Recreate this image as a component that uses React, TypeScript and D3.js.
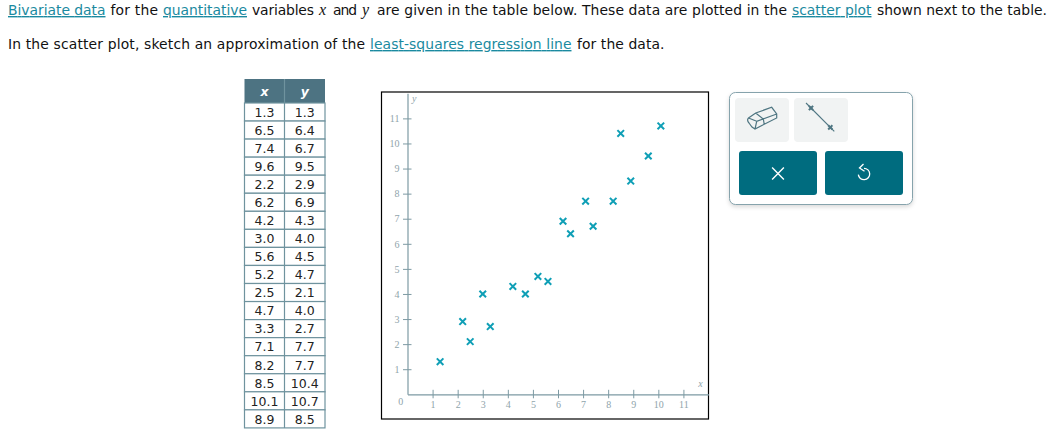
import React, { useEffect, useRef } from 'react';
import * as d3 from 'd3';

const xValues = [1.3, 6.5, 7.4, 9.6, 2.2, 6.2, 4.2, 3.0, 5.6, 5.2, 2.5, 4.7, 3.3, 7.1, 8.2, 8.5, 10.1, 8.9];
const yValues = [1.3, 6.4, 6.7, 9.5, 2.9, 6.9, 4.3, 4.0, 4.5, 4.7, 2.1, 4.0, 2.7, 7.7, 7.7, 10.4, 10.7, 8.5];
const tickValues = [1, 2, 3, 4, 5, 6, 7, 8, 9, 10, 11];

const SANS = "'DejaVu Sans', Verdana, sans-serif";
const SERIF = "'Liberation Serif', 'DejaVu Serif', serif";
const TEAL = '#006c7f';
const LINK = '#1a8aa0';
const AXIS = '#7d9aa3';
const LABEL = '#8fa4ab';

const line1: any[] = [
  { text: 'Bivariate data', x: 8, w: 97.5, link: true },
  { text: 'for the', x: 110.5, w: 47.5 },
  { text: 'quantitative', x: 163, w: 84, link: true },
  { text: 'variables', x: 252, w: 62 },
  { text: 'x', x: 319, math: true },
  { text: 'and', x: 333, w: 24 },
  { text: 'y', x: 362, math: true },
  { text: 'are given in the table below. These data are plotted in the', x: 377, w: 410 },
  { text: 'scatter plot', x: 792, w: 79.5, link: true },
  { text: 'shown next to the table.', x: 877, w: 170 },
];
const line2: any[] = [
  { text: 'In the scatter plot, sketch an approximation of the', x: 8, w: 357 },
  { text: 'least-squares regression line', x: 370, w: 201.5, link: true },
  { text: 'for the data.', x: 577, w: 87.5 },
];

export default function App() {
  const ref = useRef<SVGSVGElement>(null);

  useEffect(() => {
    const svg = d3.select(ref.current);
    svg.selectAll('*').remove();

    // paragraph
    const para = svg.append('g').attr('font-family', SANS).attr('font-size', 13.9);
    [{ row: line1, y: 15 }, { row: line2, y: 49 }].forEach(({ row, y }) => {
      para.selectAll(null).data(row).enter().append('text')
        .attr('x', d => d.x)
        .attr('y', y)
        .attr('fill', d => (d.link ? LINK : '#111'))
        .attr('text-decoration', d => (d.link ? 'underline' : null))
        .attr('font-family', d => (d.math ? SERIF : null))
        .attr('font-style', d => (d.math ? 'italic' : null))
        .attr('font-size', d => (d.math ? 16 : null))
        .attr('textLength', d => d.w ?? null)
        .text(d => d.text);
    });

    // table
    const tableX = [244.5, 284.5, 325];
    const headerTop = 79;
    const headerH = 24;
    const rowH = 18.05;
    const table = svg.append('g').attr('font-family', SANS).attr('font-size', 12.5);
    table.append('rect')
      .attr('x', tableX[0]).attr('y', headerTop)
      .attr('width', tableX[2] - tableX[0]).attr('height', headerH)
      .attr('fill', '#4d7382');
    ['x', 'y'].forEach((h, i) => {
      table.append('text')
        .attr('x', (tableX[i] + tableX[i + 1]) / 2).attr('y', headerTop + 16.5)
        .attr('text-anchor', 'middle').attr('fill', '#fff')
        .attr('font-weight', 'bold').attr('font-style', 'italic')
        .text(h);
    });
    xValues.forEach((xv, i) => {
      const top = headerTop + headerH + i * rowH;
      table.append('rect')
        .attr('x', tableX[0]).attr('y', top)
        .attr('width', tableX[2] - tableX[0]).attr('height', rowH)
        .attr('fill', '#fff').attr('stroke', '#6f939e').attr('stroke-width', 1.2);
      table.append('text')
        .attr('x', (tableX[0] + tableX[1]) / 2).attr('y', top + 13.8)
        .attr('text-anchor', 'middle').attr('fill', '#222')
        .text(xv.toFixed(1));
      table.append('text')
        .attr('x', (tableX[1] + tableX[2]) / 2).attr('y', top + 13.8)
        .attr('text-anchor', 'middle').attr('fill', '#222')
        .text(yValues[i].toFixed(1));
    });
    table.append('line')
      .attr('x1', tableX[1]).attr('x2', tableX[1])
      .attr('y1', headerTop).attr('y2', headerTop + headerH + xValues.length * rowH)
      .attr('stroke', '#6f939e').attr('stroke-width', 1.2);

    // scatter plot
    const x = d3.scaleLinear().domain([0, 12]).range([407.5, 708.5]);
    const y = d3.scaleLinear().domain([0, 12]).range([394.3, 93.3]);

    const plot = svg.append('g');
    plot.append('rect')
      .attr('x', 381.5).attr('y', 92)
      .attr('width', 327).attr('height', 327)
      .attr('fill', '#fff').attr('stroke', '#000').attr('stroke-width', 1.2);

    const xAxis = plot.append('g').attr('transform', `translate(0,${y(0)})`)
      .call(d3.axisBottom(x).tickValues(tickValues).tickSize(0).tickPadding(7).tickFormat(d3.format('d')));
    const yAxis = plot.append('g').attr('transform', `translate(${x(0)},0)`)
      .call(d3.axisLeft(y).tickValues(tickValues).tickSize(0).tickPadding(8).tickFormat(d3.format('d')));

    [xAxis, yAxis].forEach(a => {
      a.select('.domain').attr('stroke', AXIS).attr('stroke-width', 1.2);
      a.selectAll('text').attr('fill', LABEL).attr('font-family', SERIF).attr('font-size', 10);
    });
    xAxis.selectAll('.tick line').attr('stroke', AXIS).attr('y1', -4.5).attr('y2', 4);
    yAxis.selectAll('.tick line').attr('stroke', AXIS).attr('x1', -4.5).attr('x2', 4);

    const axisLabels = [
      { text: '0', px: x(0) - 6.8, py: y(0) + 11 },
      { text: 'x', px: x(11.68), py: y(0) - 7, italic: true },
      { text: 'y', px: x(0) + 6.8, py: y(11.65), italic: true },
    ];
    plot.selectAll(null).data(axisLabels).enter().append('text')
      .attr('x', d => d.px).attr('y', d => d.py)
      .attr('text-anchor', 'middle')
      .attr('fill', LABEL).attr('font-family', SERIF).attr('font-size', 10)
      .attr('font-style', d => (d.italic ? 'italic' : null))
      .text(d => d.text);

    const cross = d3.symbol().type(d3.symbolX).size(30);
    plot.selectAll(null).data(xValues).enter().append('path')
      .attr('transform', (d, i) => `translate(${x(d)},${y(yValues[i])})`)
      .attr('d', cross as any)
      .attr('fill', 'none').attr('stroke', '#0f9fb6').attr('stroke-width', 2);

    // tool panel
    const panel = svg.append('g');
    panel.append('rect')
      .attr('x', 729.5).attr('y', 92.5).attr('width', 183).attr('height', 112).attr('rx', 6)
      .attr('fill', '#fff').attr('stroke', '#86a3ac').attr('stroke-width', 1)
      .style('filter', 'drop-shadow(0 2px 2px rgba(0,0,0,0.15))');
    [735, 794].forEach(bx => {
      panel.append('rect').attr('x', bx).attr('y', 98).attr('width', 54).attr('height', 44).attr('rx', 4).attr('fill', '#f1f3f3');
    });
    [739, 825].forEach(bx => {
      panel.append('rect').attr('x', bx).attr('y', 151).attr('width', 78).attr('height', 44).attr('rx', 3).attr('fill', TEAL);
    });

    // eraser icon
    const icon = '#4f7682';
    panel.append('path')
      .attr('d', 'M755.7 113 L771.7 107.3 L776.7 114 L776.7 118 L755 129 L752 127 L749 123 Q746.5 120 748.5 118 Z M776.7 114 L756.7 121.3 Q752 119.5 748.5 118 M756.7 121.3 L755 129 M755.7 113 L763.3 119 L764.3 124.7')
      .attr('fill', 'none').attr('stroke', icon).attr('stroke-width', 1.2);
    // line tool icon
    panel.append('line').attr('x1', 806).attr('y1', 103).attr('x2', 834.3).attr('y2', 131.3).attr('stroke', icon).attr('stroke-width', 1.1);
    [[811, 108], [830.3, 127.3]].forEach(([cx, cy]) => {
      panel.append('path')
        .attr('transform', `translate(${cx},${cy}) rotate(45)`)
        .attr('d', d3.symbol().type(d3.symbolCross).size(20) as any)
        .attr('fill', icon);
    });
    // X button
    panel.append('path')
      .attr('transform', 'translate(778,173.5)')
      .attr('d', d3.symbol().type(d3.symbolX).size(92) as any)
      .attr('fill', 'none').attr('stroke', '#fff').attr('stroke-width', 1.4);
    // undo button
    const arc = d3.arc()({ innerRadius: 5.7, outerRadius: 5.7, startAngle: 0, endAngle: 4.6 } as any) as string;
    panel.append('path')
      .attr('transform', 'translate(864,174)')
      .attr('d', arc)
      .attr('fill', 'none').attr('stroke', '#fff').attr('stroke-width', 1.3);
    panel.append('path')
      .attr('d', 'M863.5 164 L859.5 168 L864.5 171.3')
      .attr('fill', 'none').attr('stroke', '#fff').attr('stroke-width', 1.3);
  }, []);

  return (
    <svg
      ref={ref}
      width={1052}
      height={431}
      style={{ position: 'absolute', left: 0, top: 0, background: '#fff' }}
    />
  );
}
